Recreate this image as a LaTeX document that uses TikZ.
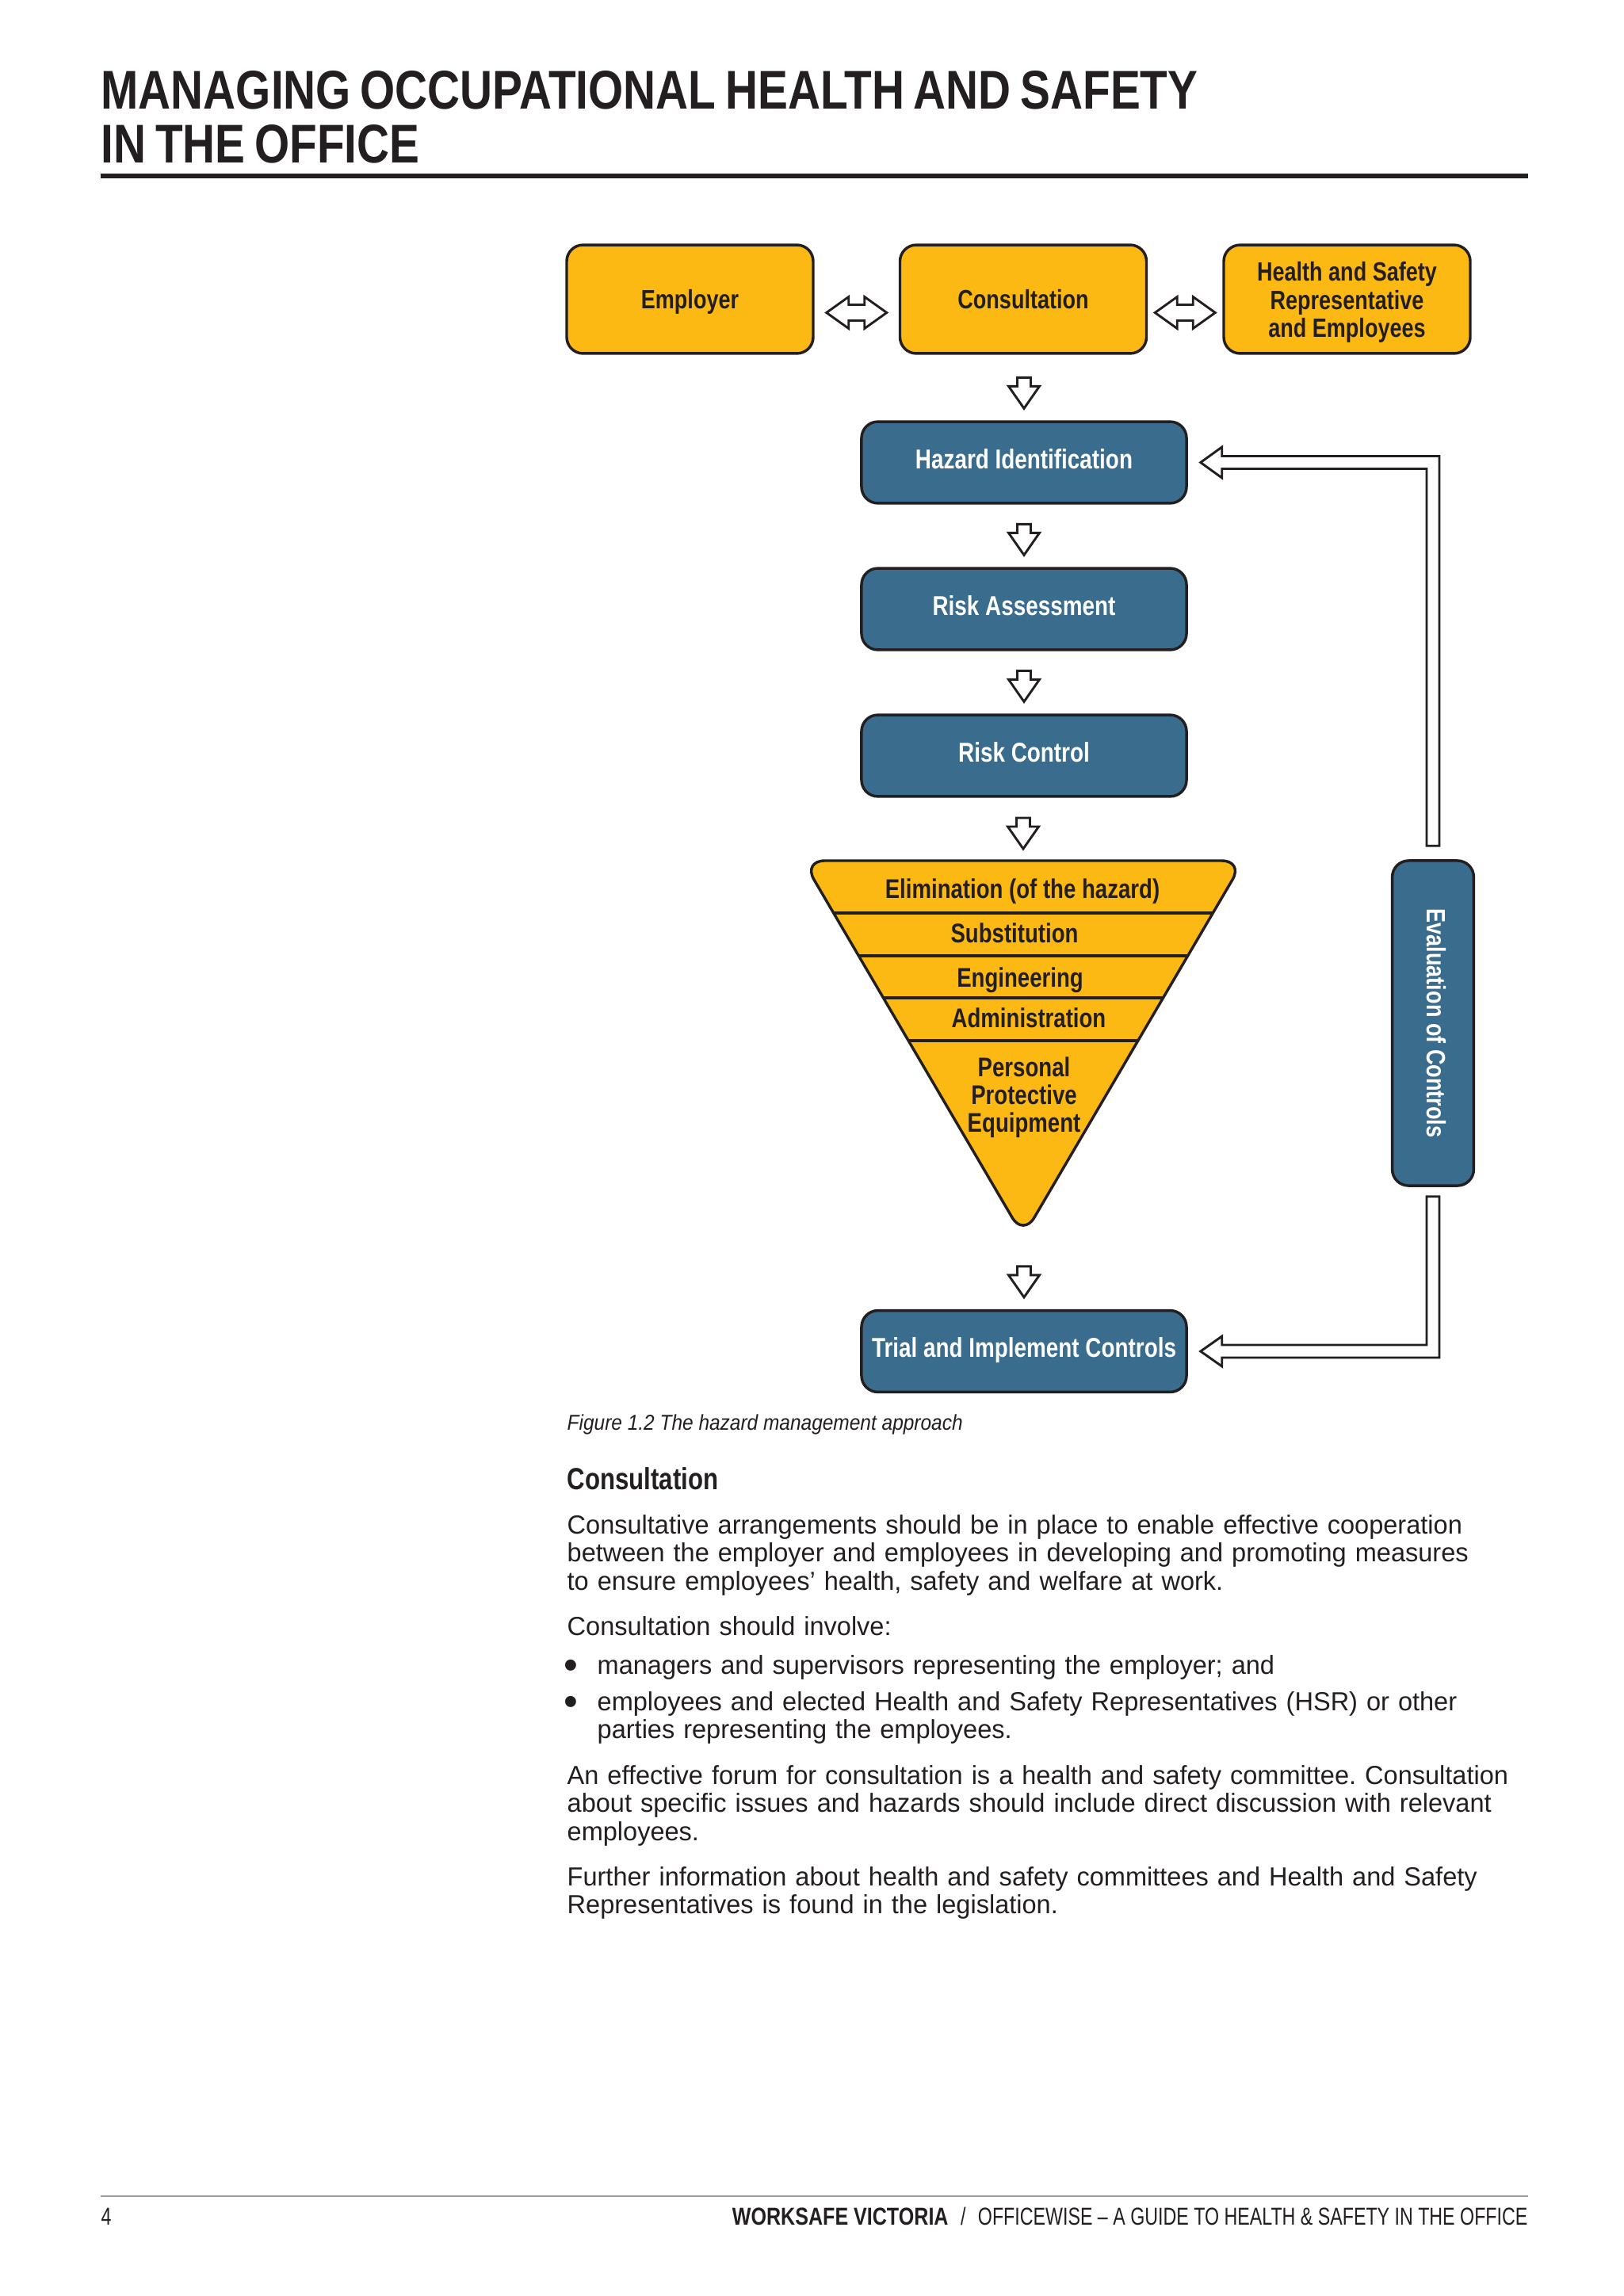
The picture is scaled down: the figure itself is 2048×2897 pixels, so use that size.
\documentclass[tikz,border=0pt]{standalone}
\usepackage{fontspec}
\setmainfont[FakeStretch=0.985]{Liberation Sans}
\newfontfamily\condfont[FakeStretch=0.81]{Liberation Sans}
\newfontfamily\titlefont[FakeStretch=0.825]{Liberation Sans}
\newfontfamily\lightcond[FakeStretch=0.9]{Liberation Sans}
\newfontfamily\footcond[FakeStretch=0.75]{Liberation Sans}
\usetikzlibrary{calc}
\frenchspacing
\newcommand{\tightwords}{\spaceskip=0.17em\relax}

\definecolor{safetyyellow}{RGB}{253,185,19}
\definecolor{hazardblue}{RGB}{58,108,142}
\definecolor{inkdark}{RGB}{35,31,32}

\tikzset{
  outline/.style={draw=inkdark, line width=1pt},
  boxfont/.style={font=\condfont\bfseries\fontsize{9.7pt}{10.2pt}\selectfont},
  yellowbox/.style={outline, boxfont, fill=safetyyellow, text=inkdark, rounded corners=6pt,
    minimum width=90.4pt, minimum height=39.8pt, inner sep=0pt, align=center},
  bluebox/.style={outline, font=\condfont\bfseries\fontsize{10pt}{10.6pt}\selectfont, fill=hazardblue,
    text=white, rounded corners=6pt, minimum width=119.2pt, minimum height=29.9pt, inner sep=0pt,
    text height=4.4pt, text depth=0pt},
  oneline/.style={text height=7pt, text depth=0pt},
  blockarrow/.style={draw=inkdark, line width=0.85pt, fill=white, line join=miter},
  tierlabel/.style={font=\condfont\bfseries\fontsize{9.9pt}{10.2pt}\selectfont, text=inkdark,
    anchor=base, inner sep=0pt},
  titletext/.style={anchor=base west, inner sep=0pt, text width=600pt, align=left,
    font=\titlefont\bfseries\fontsize{20pt}{19.8pt}\selectfont, text=inkdark},
  headtext/.style={anchor=base west, inner sep=0pt,
    font=\condfont\bfseries\fontsize{11.2pt}{12pt}\selectfont, text=inkdark},
  captiontext/.style={anchor=base west, inner sep=0pt,
    font=\lightcond\itshape\fontsize{7.9pt}{9pt}\selectfont, text=inkdark},
  bodytext/.style={anchor=base west, inner sep=0pt, text width=400pt, align=left,
    font=\fontsize{9.6pt}{10.4pt}\selectfont, text=inkdark},
  bulletmark/.style={anchor=base west, inner sep=0pt, font=\fontsize{15pt}{15pt}\selectfont, text=inkdark},
  footertext/.style={inner sep=0pt, font=\footcond\fontsize{9pt}{10pt}\selectfont, text=inkdark}
}

\begin{document}
\begin{tikzpicture}[x=0.29066pt,y=0.29066pt,yscale=-1,xscale=1]
\useasboundingbox (0,0) rectangle (2048,2897);
\fill[white] (0,0) rectangle (2048,2897);

% Text Node: page title
\node[titletext] (title) at (127,137) {\tightwords MANAGING OCCUPATIONAL HEALTH AND SAFETY\\IN THE OFFICE};
%Straight Lines: title rule
\draw[line width=1.65pt, inkdark] (127,222) -- (1928,222);

%Shape: Rounded Rectangle, top row
\node[yellowbox, oneline] (employer) at (870.5,377.5) {Employer};
\node[yellowbox, oneline] (consult) at (1291,377.5) {Consultation};
\node[yellowbox] (workforce) at (1699.5,377.5) {\raisebox{-1.6pt}[\height][\depth]{\begin{tabular}{@{}c@{}}Health and Safety\\Representative\\and Employees\end{tabular}}};

%Shape: Rounded Rectangle, process steps
\node[bluebox] (hazard) at (1292,583.5) {Hazard Identification};
\node[bluebox] (assess) at (1292,768.5) {Risk Assessment};
\node[bluebox] (control) at (1292,953.5) {Risk Control};
\node[bluebox] (trial) at (1292,1705) {Trial and Implement Controls};
\node[bluebox, rotate=-90, font=\condfont\bfseries\fontsize{9.7pt}{10.2pt}\selectfont] (evaluation) at (1808,1291) {Evaluation of Controls};

%Shape: Triangle, hierarchy of control
\coordinate (tritop) at (1291,1086);
\draw[outline, fill=safetyyellow, rounded corners=8pt] (1013,1086) -- (1569,1086) -- (1291,1560) -- cycle;
\foreach \yb in {1152,1206,1259,1313}
  \draw[outline] ({1291-278+(\yb-1086)*0.5865},\yb) -- ({1291+278-(\yb-1086)*0.5865},\yb);

% Text Node
\node[tierlabel] (elimination) at (1290,1133) {Elimination (of the hazard)};
\node[tierlabel] (substitution) at (1280,1189) {Substitution};
\node[tierlabel] (engineering) at (1287,1245) {Engineering};
\node[tierlabel] (administration) at (1298,1296) {Administration};
\node[tierlabel, text width=80pt, align=center] (ppe) at (1292,1358) {Personal\\Protective\\Equipment};

%Block Arrows: downward steps
\foreach \tip in {hazard.north,assess.north,control.north,tritop,trial.north}
  \draw[blockarrow] ($(\tip)+(0,-15)$) -- ++(-19.5,-28) -- ++(11,0) -- ++(0,-11) -- ++(17,0) -- ++(0,11) -- ++(11,0) -- cycle;

%Block Arrows: two-way links
\foreach \lft/\rgt in {employer/consult,consult/workforce}
  \draw[blockarrow] ($(\lft.east)!0.5!(\rgt.west)+(0,17)$) ++(-38,0) -- ++(28,-20) -- ++(0,10) -- ++(20,0) -- ++(0,-10)
    -- ++(28,20) -- ++(-28,20) -- ++(0,-10) -- ++(-20,0) -- ++(0,10) -- cycle;

%Block Arrows: feedback from evaluation
\coordinate (hzin) at ($(hazard.east)+(16,0)$);
\coordinate (evtop) at ($(evaluation.west)+(0,-17)$);
\draw[blockarrow] (hzin) -- ++(27,-19.5) -- ++(0,11.5) -| ($(evtop)+(8,0)$) -- ++(-16,0) |- ($(hzin)+(27,8)$) -- ++(0,11.5) -- cycle;
\coordinate (trin) at ($(trial.east)+(16,0)$);
\coordinate (evbot) at ($(evaluation.east)+(0,12)$);
\draw[blockarrow] (trin) -- ++(27,-19) -- ++(0,11) -| ($(evbot)+(-8,0)$) -- ++(16,0) |- ($(trin)+(27,8)$) -- ++(0,11) -- cycle;

% Text Node: caption and body
\node[captiontext] (caption) at (715,1804) {Figure 1.2 The hazard management approach};
\node[headtext] (consulthead) at (715,1879) {Consultation};
\node[bodytext] (para1) at (715,1935) {Consultative arrangements should be in place to enable effective cooperation\\between the employer and employees in developing and promoting measures\\to ensure employees’ health, safety and welfare at work.};
\node[bodytext] (para2) at (715,2063) {Consultation should involve:};
\node[bulletmark] (dot1) at (711,2118) {•};
\node[bodytext] (item1) at (753,2112) {managers and supervisors representing the employer; and};
\node[bulletmark] (dot2) at (711,2164) {•};
\node[bodytext] (item2) at (753,2158) {employees and elected Health and Safety Representatives (HSR) or other\\parties representing the employees.};
\node[bodytext] (para3) at (715,2251) {An effective forum for consultation is a health and safety committee. Consultation\\about specific issues and hazards should include direct discussion with relevant\\employees.};
\node[bodytext] (para4) at (715,2379) {Further information about health and safety committees and Health and Safety\\Representatives is found in the legislation.};

%Straight Lines: footer rule
\draw[gray!75, line width=0.5pt] (127,2771) -- (1928,2771);
% Text Node: footer
\node[footertext, anchor=base west] (pagenum) at (127,2807) {4};
\node[footertext, anchor=base east] (series) at (1928,2807) {{\condfont\bfseries WORKSAFE VICTORIA}\hspace{4.5pt}/\hspace{4.5pt}OFFICEWISE – A GUIDE TO HEALTH \& SAFETY IN THE OFFICE};

\end{tikzpicture}
\end{document}
